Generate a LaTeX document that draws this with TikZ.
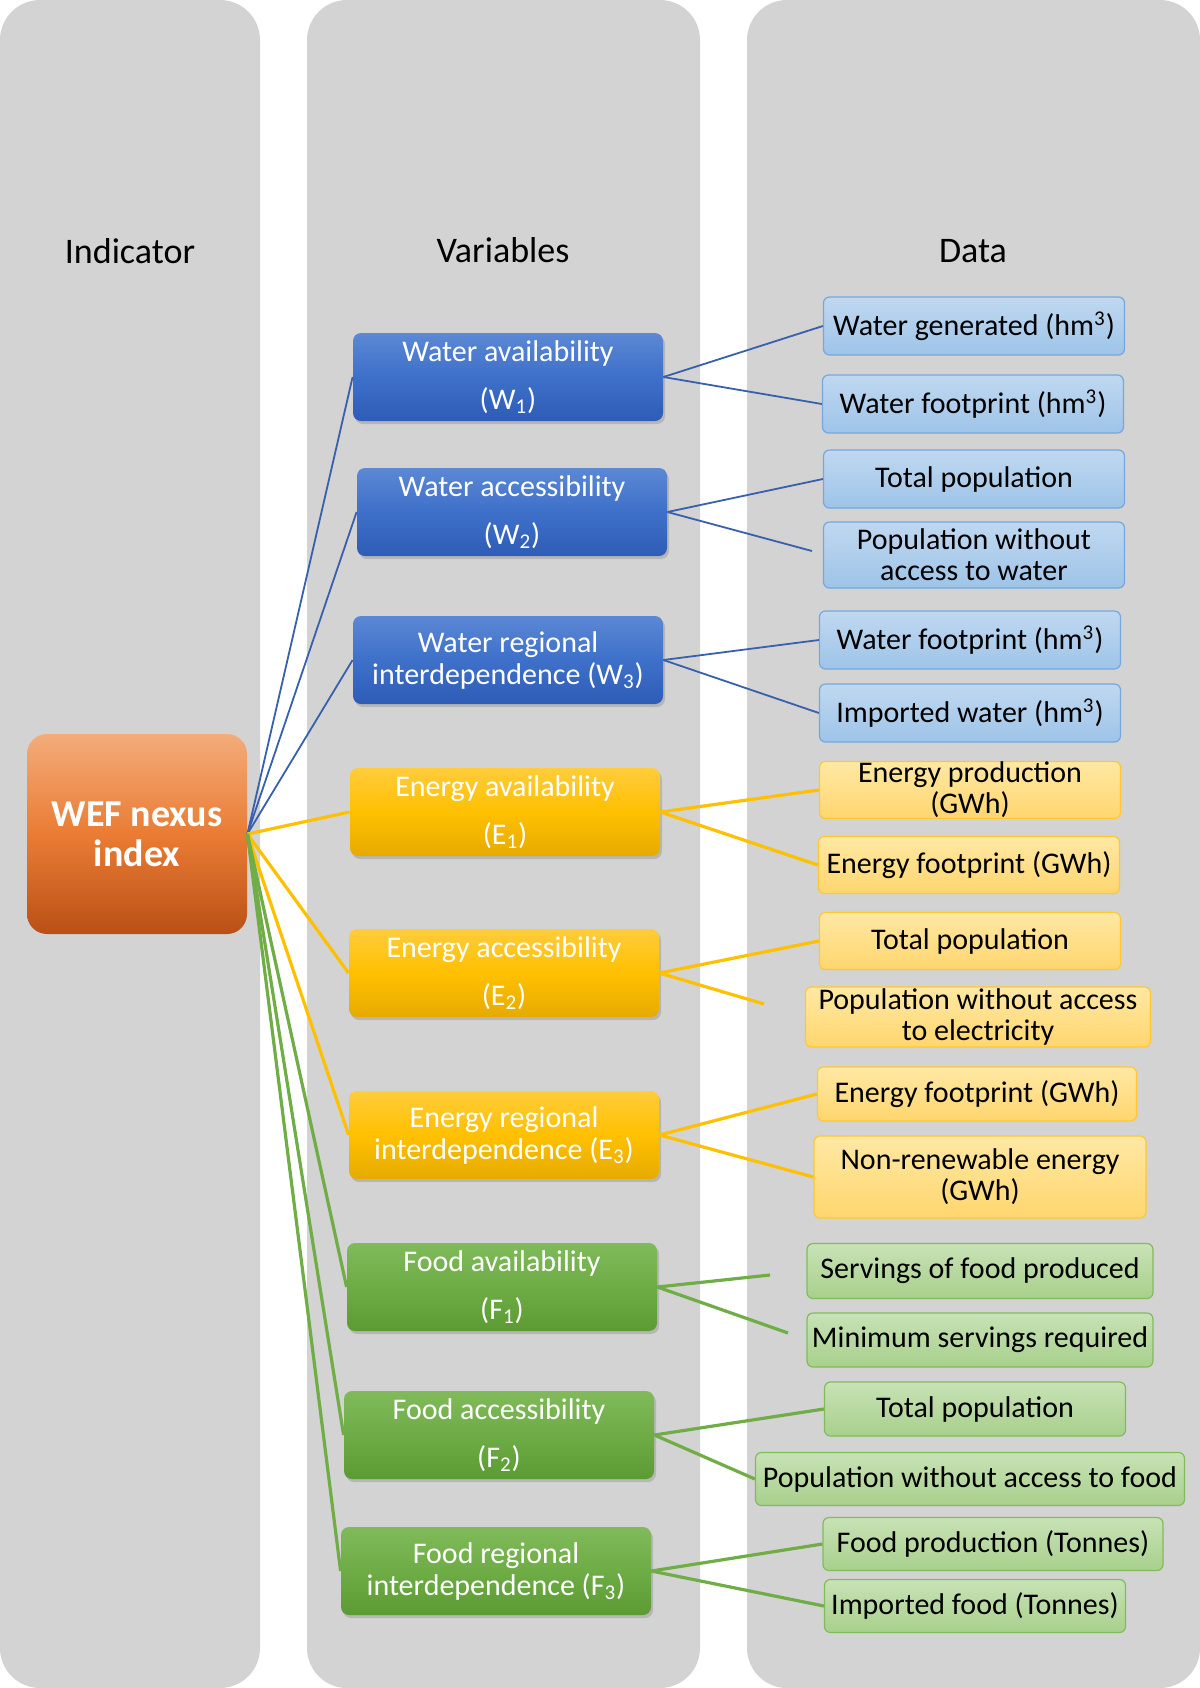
\documentclass[tikz,border=0pt]{standalone}
\usepackage{fontspec}
\setmainfont{Carlito}
\usetikzlibrary{shadows}

\definecolor{colbg}{RGB}{211,211,211}
\definecolor{hubtop}{RGB}{243,172,122}
\definecolor{hubmid}{RGB}{234,124,52}
\definecolor{hubbot}{RGB}{186,80,22}
\definecolor{wtop}{RGB}{92,136,212}
\definecolor{wmid}{RGB}{62,112,202}
\definecolor{wbot}{RGB}{46,92,182}
\definecolor{etop}{RGB}{255,204,60}
\definecolor{emid}{RGB}{255,192,0}
\definecolor{ebot}{RGB}{230,170,0}
\definecolor{ftop}{RGB}{128,186,90}
\definecolor{fmid}{RGB}{110,172,70}
\definecolor{fbot}{RGB}{92,154,52}
\definecolor{wdtop}{RGB}{192,216,240}
\definecolor{wdbot}{RGB}{158,196,232}
\definecolor{wdrule}{RGB}{116,168,222}
\definecolor{edtop}{RGB}{255,232,164}
\definecolor{edbot}{RGB}{255,214,110}
\definecolor{edrule}{RGB}{255,200,50}
\definecolor{fdtop}{RGB}{200,226,182}
\definecolor{fdbot}{RGB}{168,208,140}
\definecolor{fdrule}{RGB}{128,188,90}
\definecolor{wline}{RGB}{56,96,172}
\definecolor{eline}{RGB}{255,192,0}
\definecolor{fline}{RGB}{112,173,71}

\begin{document}
\begin{tikzpicture}[
  x=0.5pt, y=-0.5pt,
  every node/.style={inner sep=0pt},
  col/.style={fill=colbg, rounded corners=20pt},
  head/.style={font=\fontsize{18}{22}\selectfont},
  hub/.style={rounded corners=10pt, top color=hubtop, bottom color=hubbot,
    middle color=hubmid, text=white, align=center,
    font=\bfseries\fontsize{19}{20}\selectfont,
    minimum width=110pt, minimum height=100pt},
  var/.style={rounded corners=4pt, minimum width=155pt, minimum height=44pt,
    align=center, text=white, font=\fontsize{15}{24}\selectfont,
    drop shadow={opacity=0.35, shadow xshift=1pt, shadow yshift=-1.5pt}},
  tight/.style={font=\fontsize{15}{16}\selectfont},
  wvar/.style={var, top color=wtop, bottom color=wbot, middle color=wmid},
  evar/.style={var, top color=etop, bottom color=ebot, middle color=emid},
  fvar/.style={var, top color=ftop, bottom color=fbot, middle color=fmid},
  dat/.style={draw, line width=0.6pt, rounded corners=3pt, align=center,
    font=\fontsize{15}{15.5}\selectfont, minimum width=150.5pt},
  wdat/.style={dat, draw=wdrule, top color=wdtop, bottom color=wdbot,
    minimum height=29pt},
  edat/.style={dat, draw=edrule, top color=edtop, bottom color=edbot,
    minimum height=28.5pt},
  fdat/.style={dat, draw=fdrule, top color=fdtop, bottom color=fdbot,
    minimum height=26.5pt},
  wlink/.style={draw=wline, line width=0.9pt},
  elink/.style={draw=eline, line width=1.6pt},
  flink/.style={draw=fline, line width=1.6pt}]

  \useasboundingbox (0,0) rectangle (1200,1688);

  % ---- columns ------------------------------------------------------------
  \fill[col] (0,0) rectangle (260,1688);
  \fill[col] (307,0) rectangle (700,1688);
  \fill[col] (747,0) rectangle (1200,1688);

  \node[head] (HI) at (130,251) {Indicator};
  \node[head] (HV) at (503,250) {Variables};
  \node[head] (HD) at (973,251) {Data};

  % ---- indicator and variables ---------------------------------------------
  \node[hub] (WEF) at (137,834) {WEF nexus\\index};

  \node[wvar] (W1) at (508,377) {Water availability\\(W\textsubscript{1})};
  \node[wvar] (W2) at (512,512) {Water accessibility\\(W\textsubscript{2})};
  \node[wvar, tight] (W3) at (508,660) {Water regional\\interdependence (W\textsubscript{3})};
  \node[evar] (E1) at (505,812) {Energy availability\\(E\textsubscript{1})};
  \node[evar] (E2) at (504,973) {Energy accessibility\\(E\textsubscript{2})};
  \node[evar, tight] (E3) at (504,1135) {Energy regional\\interdependence (E\textsubscript{3})};
  \node[fvar] (F1) at (502,1287) {Food availability\\(F\textsubscript{1})};
  \node[fvar] (F2) at (499,1435) {Food accessibility\\(F\textsubscript{2})};
  \node[fvar, tight] (F3) at (496,1571) {Food regional\\interdependence (F\textsubscript{3})};

  % ---- data ---------------------------------------------------------------
  \node[wdat] (W1a) at (974,326) {Water generated (hm\textsuperscript{3})};
  \node[wdat] (W1b) at (973,404) {Water footprint (hm\textsuperscript{3})};
  \node[wdat] (W2a) at (974,479) {Total population};
  \node[wdat, minimum height=33pt] (W2b) at (974,555) {Population without\\access to water};
  \node[wdat] (W3a) at (970,640) {Water footprint (hm\textsuperscript{3})};
  \node[wdat] (W3b) at (970,713) {Imported water (hm\textsuperscript{3})};

  \node[edat] (E1a) at (970,790) {Energy production\\(GWh)};
  \node[edat] (E1b) at (969,865) {Energy footprint (GWh)};
  \node[edat] (E2a) at (970,941) {Total population};
  \node[edat, minimum width=172.5pt, minimum height=30pt] (E2b) at (978,1017)
    {Population without access\\to electricity};
  \node[edat, minimum width=159.5pt, minimum height=27pt] (E3a) at (977,1094)
    {Energy footprint (GWh)};
  \node[edat, minimum width=166pt, minimum height=41pt] (E3b) at (980,1177)
    {Non-renewable energy\\(GWh)};

  \node[fdat, minimum width=173pt, minimum height=27.5pt] (F1a) at (980,1271)
    {Servings of food produced};
  \node[fdat, minimum width=173pt, minimum height=27pt] (F1b) at (980,1340)
    {Minimum servings required};
  \node[fdat, minimum height=27pt] (F2a) at (975,1409) {Total population};
  \node[fdat, minimum width=214.5pt] (F2b) at (970,1479)
    {Population without access to food};
  \node[fdat, minimum width=170pt] (F3a) at (993,1544) {Food production (Tonnes)};
  \node[fdat] (F3b) at (975,1606) {Imported food (Tonnes)};

  % loose ends that stop short of their boxes
  \coordinate (W2x) at (812,551);
  \coordinate (E2x) at (764,1004);
  \coordinate (F1x) at (770,1275);
  \coordinate (F1y) at (788,1333);

  % ---- links --------------------------------------------------------------
  \foreach \v in {W1,W2,W3} \draw[wlink] (WEF.east) -- (\v.west);
  \foreach \v in {E1,E2,E3} \draw[elink] (WEF.east) -- (\v.west);
  \foreach \v in {F1,F2,F3} \draw[flink] (WEF.east) -- (\v.west);

  \draw[wlink] (W1.east) -- (W1a.west);
  \draw[wlink] (W1.east) -- (W1b.west);
  \draw[wlink] (W2.east) -- (W2a.west);
  \draw[wlink] (W2.east) -- (W2x);
  \draw[wlink] (W3.east) -- (W3a.west);
  \draw[wlink] (W3.east) -- (W3b.west);

  \draw[elink] (E1.east) -- (E1a.west);
  \draw[elink] (E1.east) -- (E1b.west);
  \draw[elink] (E2.east) -- (E2a.west);
  \draw[elink] (E2.east) -- (E2x);
  \draw[elink] (E3.east) -- (E3a.west);
  \draw[elink] (E3.east) -- (E3b.west);

  \draw[flink] (F1.east) -- (F1x);
  \draw[flink] (F1.east) -- (F1y);
  \draw[flink] (F2.east) -- (F2a.west);
  \draw[flink] (F2.east) -- (F2b.west);
  \draw[flink] (F3.east) -- (F3a.west);
  \draw[flink] (F3.east) -- (F3b.west);
\end{tikzpicture}
\end{document}
